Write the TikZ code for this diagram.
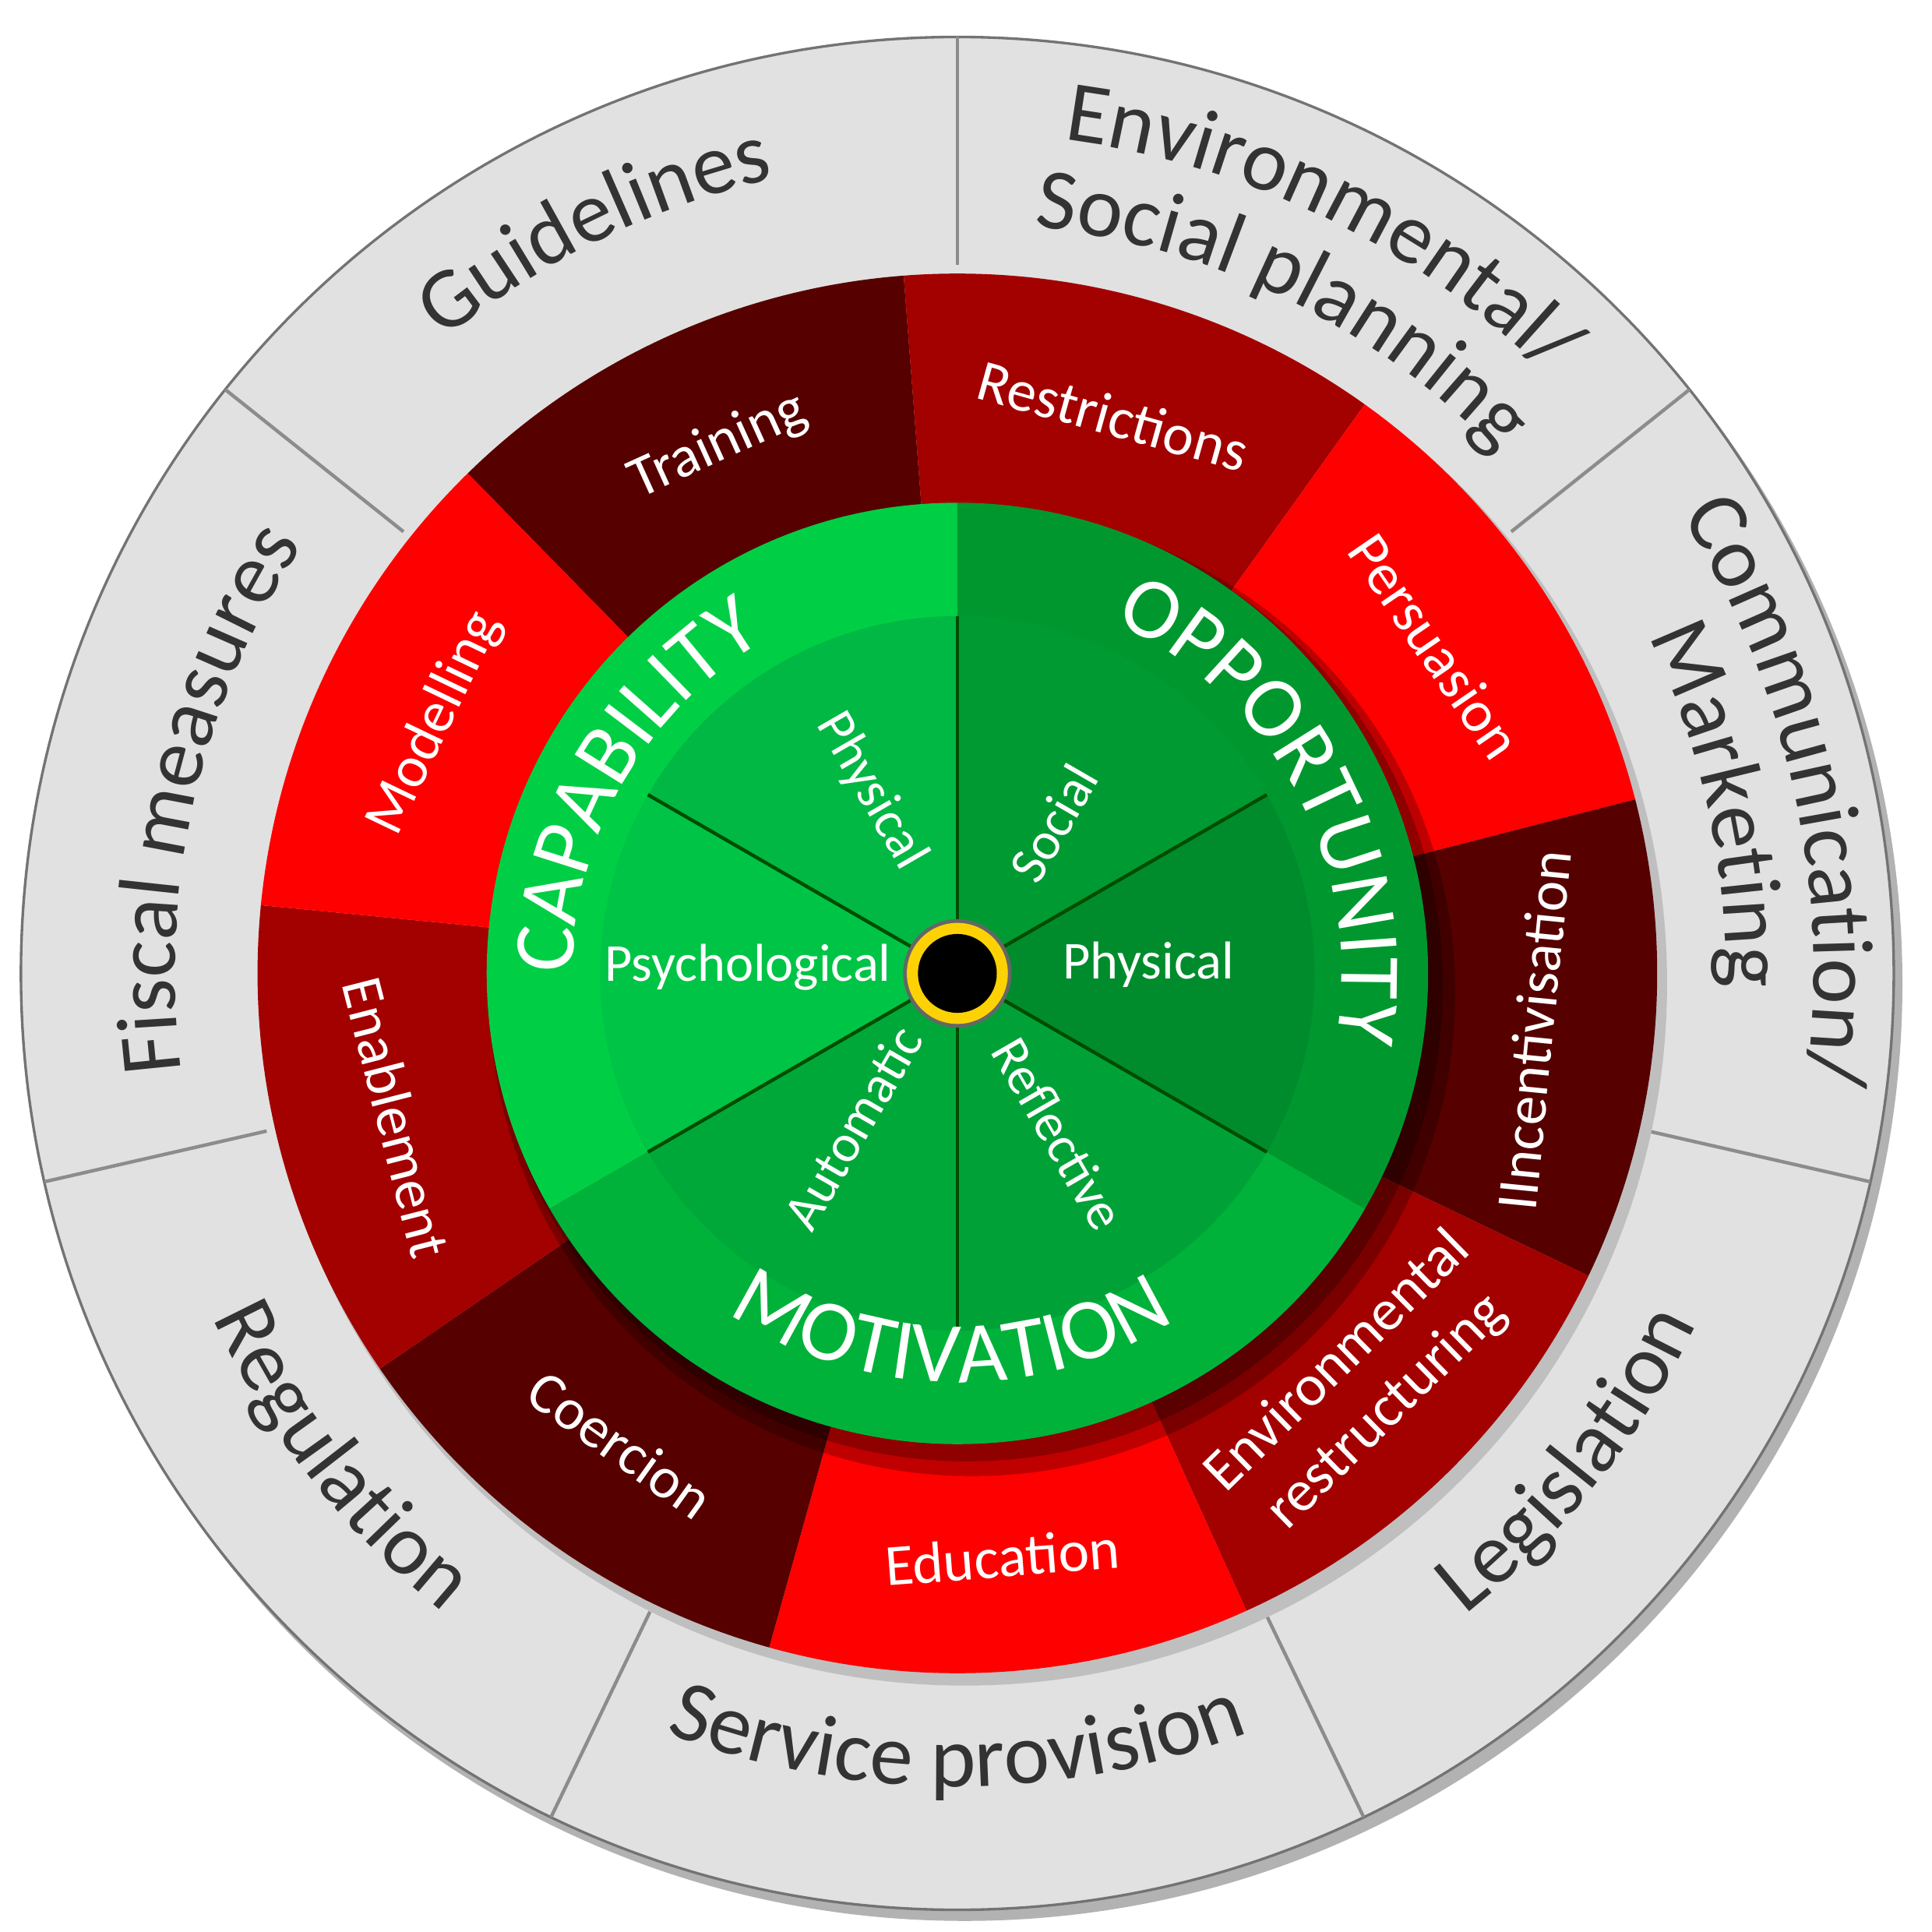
\documentclass[tikz,border=0pt]{standalone}
\usepackage{fontspec}
\setmainfont{Carlito}
\usetikzlibrary{decorations.text}
\definecolor{greyring}{HTML}{E1E1E1}
\definecolor{rdark}{HTML}{560000}
\definecolor{rmed}{HTML}{A30000}
\definecolor{rbright}{HTML}{FF0000}
\definecolor{gcap}{HTML}{00CF45}
\definecolor{gopp}{HTML}{00982E}
\definecolor{gmot}{HTML}{00B23A}
\definecolor{gtxt}{HTML}{333333}
\tikzset{
 redtxt/.style={font=\fontsize{13.5}{16}\selectfont, text=white, align=center},
 inner/.style={font=\fontsize{12.3}{15}\selectfont, text=white},
}
\newcommand{\ctext}[6]{% start, end, radius, colour, size, text
 \path[decorate, decoration={text along path, text align=center, text={|\fontsize{#5}{#5}\selectfont\color{#4}|#6}}] (#1:#3) arc[start angle=#1, end angle=#2, radius=#3];}
\begin{document}
\begin{tikzpicture}[x=0.01cm,y=0.01cm]
\useasboundingbox[fill=white] (-777,-778) rectangle (791,790);
% grey ring
\fill[black!30] (6,-8) circle (761);
\fill[greyring] (0,0) circle (760);
\draw[black!55, line width=0.6pt] (0,0) circle (760);
\foreach \a in {0,...,6}{
  \draw[black!45, line width=0.8pt] ({90-\a*360/7}:575) -- ({90-\a*360/7}:760);
}
% red ring shadow
\fill[black!25] (6,-8) circle (570);
% red segments
\foreach \i/\c in {0/rdark,1/rmed,2/rbright,3/rdark,4/rmed,5/rbright,6/rdark,7/rmed,8/rbright}{
  \pgfmathsetmacro{\s}{134.4-40*\i}
  \pgfmathsetmacro{\e}{94.4-40*\i}
  \fill[\c] (0,0) -- (\s:568) arc[start angle=\s, end angle=\e, radius=568] -- cycle;
}
% green shadow
\fill[black, opacity=0.25] (12,-16) circle (392);
\fill[black, opacity=0.25] (8,-10) circle (386);
% green outer ring
\fill[gcap] (0,0) -- (90:382) arc[start angle=90,end angle=210,radius=382] -- cycle;
\fill[gopp] (0,0) -- (-30:382) arc[start angle=-30,end angle=90,radius=382] -- cycle;
\fill[gmot] (0,0) -- (210:382) arc[start angle=210,end angle=330,radius=382] -- cycle;
% inner sectors
\foreach \s/\c in {90/00B843,150/00C446,210/00A83A,270/00A238,330/008C2C,30/009A33}{
  \definecolor{tmpc}{HTML}{\c}
  \fill[fill=tmpc] (0,0) -- (\s:290) arc[start angle=\s, end angle=\s+60, radius=290] -- cycle;
}
\foreach \a in {30,90,150,210,270,330}{
  \draw[black!70!green, line width=0.8pt] (0,0) -- (\a:290);
}
% centre
\fill[black!60] (0,0) circle (44);
\fill[yellow!70!orange] (0,0) circle (41);
\fill[black] (0,0) circle (32);
% grey labels
\ctext{146}{86}{662}{gtxt}{20}{Guidelines}
\ctext{104}{24}{682}{gtxt}{20}{Environmental/}
\ctext{104}{24}{609}{gtxt}{20}{Social planning}
\ctext{44}{-19}{695}{gtxt}{20}{Communication/}
\ctext{44}{-19}{624}{gtxt}{20}{Marketing}
\ctext{-68}{-9}{664}{gtxt}{20}{Legislation}
\ctext{-122}{-58}{660}{gtxt}{20}{Service provision}
\ctext{188}{248}{666}{gtxt}{20}{Regulation}
\ctext{197}{137}{635}{gtxt}{20}{Fiscal measures}
% red labels
\node[redtxt, rotate=24.4] (l1) at (114.4:470) {Training};
\node[redtxt, rotate=-15.6] (l2) at (74.4:470) {Restrictions};
\node[redtxt, rotate=-55.6] (l3) at (34.4:470) {Persuasion};
\node[redtxt, rotate=84.4] (l4) at (-5.6:470) {IIncentivisation};
\node[redtxt, rotate=44.4] (l5) at (-45.6:470) {Environmental\\restructuring};
\node[redtxt, rotate=4.4] (l6) at (-85.6:475) {Education};
\node[redtxt, rotate=-35.6] (l7) at (-125.6:470) {Coercion};
\node[redtxt, rotate=-75.6] (l8) at (-165.6:470) {Enablement};
\node[redtxt, rotate=64.4] (l9) at (154.4:470) {Modelling};
% green labels
\ctext{200}{100}{312}{white}{20}{CAPABILITY}
\ctext{80}{-24}{312}{white}{20}{OPPORTUNITY}
\ctext{220}{318}{332}{white}{20}{MOTIVATION}
\node[inner] (p1) at (-170,5) {Psychological};
\node[inner] (p2) at (155,7) {Physical};
\node[inner, rotate=-60] (p3) at (-70,148) {Physical};
\node[inner, rotate=60] (p4) at (78,122) {Social};
\node[inner, rotate=60] (p5) at (-85,-125) {Automatic};
\node[inner, rotate=-60] (p6) at (82,-130) {Reflective};
\end{tikzpicture}
\end{document}
